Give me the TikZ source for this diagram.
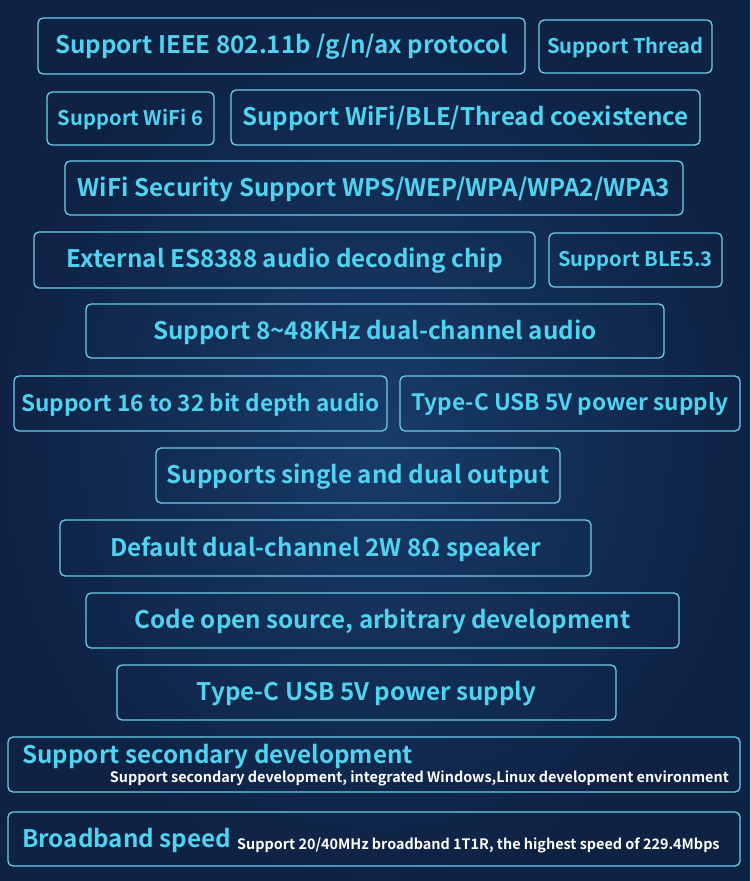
\documentclass[tikz,border=0pt]{standalone}
\usepackage{fontspec}
\setmainfont{Noto Sans CJK SC}[BoldFont={* Bold}]
\definecolor{bg}{RGB}{14,34,68}
\definecolor{bgl}{RGB}{24,60,105}
\definecolor{edge}{RGB}{110,205,235}
\definecolor{txt}{RGB}{80,210,240}
\tikzset{
 bx/.style={draw=edge,line width=1.3pt,rounded corners=5pt},
 big/.style={font=\bfseries\fontsize{24.2}{27}\selectfont,text=txt,inner sep=0},
 bign/.style={font=\bfseries\fontsize{22.6}{26}\selectfont,text=txt,inner sep=0},
 mid/.style={font=\bfseries\fontsize{20.2}{23}\selectfont,text=txt,inner sep=0},
 sm/.style={font=\bfseries\fontsize{14.4}{17}\selectfont,text=white,inner sep=0},
}
\begin{document}
\begin{tikzpicture}[x=1pt,y=-1pt]
\useasboundingbox (0,0) rectangle (750,881);
\shade[inner color=bgl,outer color=bg] (0,0) rectangle (750,881);
\newcommand\bxx[6]{\draw[bx] (#1,#2) rectangle (#3,#4) node[#5,midway,yshift=-1pt] (n#1x#2) {#6};}
\bxx{38}{18}{525}{74}{big}{Support IEEE 802.11b /g/n/ax protocol}
\bxx{539}{20}{712}{73}{mid}{Support Thread}
\bxx{47}{92}{214}{145}{mid}{Support WiFi 6}
\bxx{231}{90}{700}{145}{big}{Support WiFi/BLE/Thread coexistence}
\bxx{65}{161}{683}{215}{big}{WiFi Security Support WPS/WEP/WPA/WPA2/WPA3}
\bxx{34}{232}{535}{288}{big}{External ES8388 audio decoding chip}
\bxx{549}{233}{722}{287}{mid}{Support BLE5.3}
\bxx{86}{304}{664}{358}{big}{Support 8\textasciitilde48KHz dual-channel audio}
\bxx{14}{376}{387}{431}{bign}{Support 16 to 32 bit depth audio}
\bxx{400}{376}{740}{431}{bign}{Type-C USB 5V power supply}
\bxx{156}{448}{560}{503}{big}{Supports single and dual output}
\bxx{60}{520}{591}{576}{big}{Default dual-channel 2W 8Ω speaker}
\bxx{86}{593}{679}{648}{big}{Code open source, arbitrary development}
\bxx{117}{665}{616}{720}{big}{Type-C USB 5V power supply}
\draw[bx] (8,737) rectangle (740,792);
\node[big,anchor=west] (s1) at (22,757) {Support secondary development};
\node[sm,anchor=east] (s2) at (729,778) {Support secondary development, integrated Windows,Linux development environment};
\draw[bx] (8,812) rectangle (740,866);
\node[big,anchor=west] (b1) at (22,840) {Broadband speed};
\node[sm,anchor=west] (b2) at (237,845) {Support 20/40MHz broadband 1T1R, the highest speed of 229.4Mbps};
\end{tikzpicture}
\end{document}
